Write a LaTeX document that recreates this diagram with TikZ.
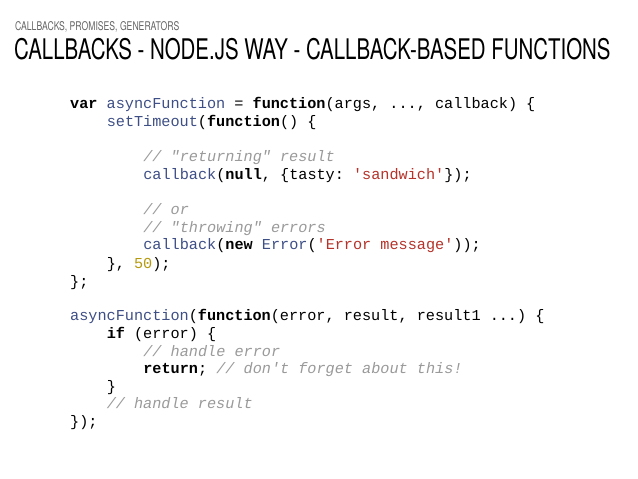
\documentclass[tikz,border=0pt]{standalone}
\usepackage{fontspec}
\setmonofont{Liberation Mono}
\newfontfamily\titlefont[FakeStretch=0.72]{TeX Gyre Heros}
\definecolor{idc}{HTML}{3E4F86}
\definecolor{strc}{HTML}{B5332A}
\definecolor{cmc}{HTML}{9A9A9A}
\definecolor{numc}{HTML}{B59A10}
\newcommand{\kw}[1]{\textbf{#1}}
\newcommand{\id}[1]{\textcolor{idc}{#1}}
\newcommand{\st}[1]{\textcolor{strc}{#1}}
\newcommand{\cm}[1]{\textcolor{cmc}{\itshape #1}}
\begin{document}
\begin{tikzpicture}[x=1bp,y=-1bp,
  code/.style={anchor=base west,inner sep=0pt,font=\ttfamily\fontsize{15.2bp}{17bp}\selectfont,text=black}]
\useasboundingbox[fill=white] (0,0) rectangle (638,479);
\node[anchor=base west,inner sep=0pt,text=black!60,font=\titlefont\fontsize{12bp}{12bp}\selectfont] (sub) at (15,31) {CALLBACKS, PROMISES, GENERATORS};
\node[anchor=base west,inner sep=0pt,text=black,font=\titlefont\fontsize{28.4bp}{28bp}\selectfont] (title) at (14,60) {CALLBACKS - NODE.JS WAY - CALLBACK-BASED FUNCTIONS};
\def\cw{9.14}
\node[code] (l1) at (70,109) {\kw{var} \id{asyncFunction} = \kw{function}(args, ..., callback) \{};
\node[code] (l2) at (70+4*\cw,127) {\id{setTimeout}(\kw{function}() \{};
\node[code] (l3) at (70+8*\cw,162) {\cm{// "returning" result}};
\node[code] (l4) at (70+8*\cw,180) {\id{callback}(\kw{null}, \{tasty: \st{'sandwich'}\});};
\node[code] (l5) at (70+8*\cw,215) {\cm{// or}};
\node[code] (l6) at (70+8*\cw,233) {\cm{// "throwing" errors}};
\node[code] (l7) at (70+8*\cw,250) {\id{callback}(\kw{new} \id{Error}(\st{'Error message'}));};
\node[code] (l8) at (70+4*\cw,268) {\}, \textcolor{numc}{50});};
\node[code] (l9) at (70,286) {\};};
\node[code] (l10) at (70,320) {\id{asyncFunction}(\kw{function}(error, result, result1 ...) \{};
\node[code] (l11) at (70+4*\cw,338) {\kw{if} (error) \{};
\node[code] (l12) at (70+8*\cw,356) {\cm{// handle error}};
\node[code] (l13) at (70+8*\cw,373) {\kw{return}; \cm{// don't forget about this!}};
\node[code] (l14) at (70+4*\cw,391) {\}};
\node[code] (l15) at (70+4*\cw,408) {\cm{// handle result}};
\node[code] (l16) at (70,426) {\});};
\end{tikzpicture}
\end{document}
